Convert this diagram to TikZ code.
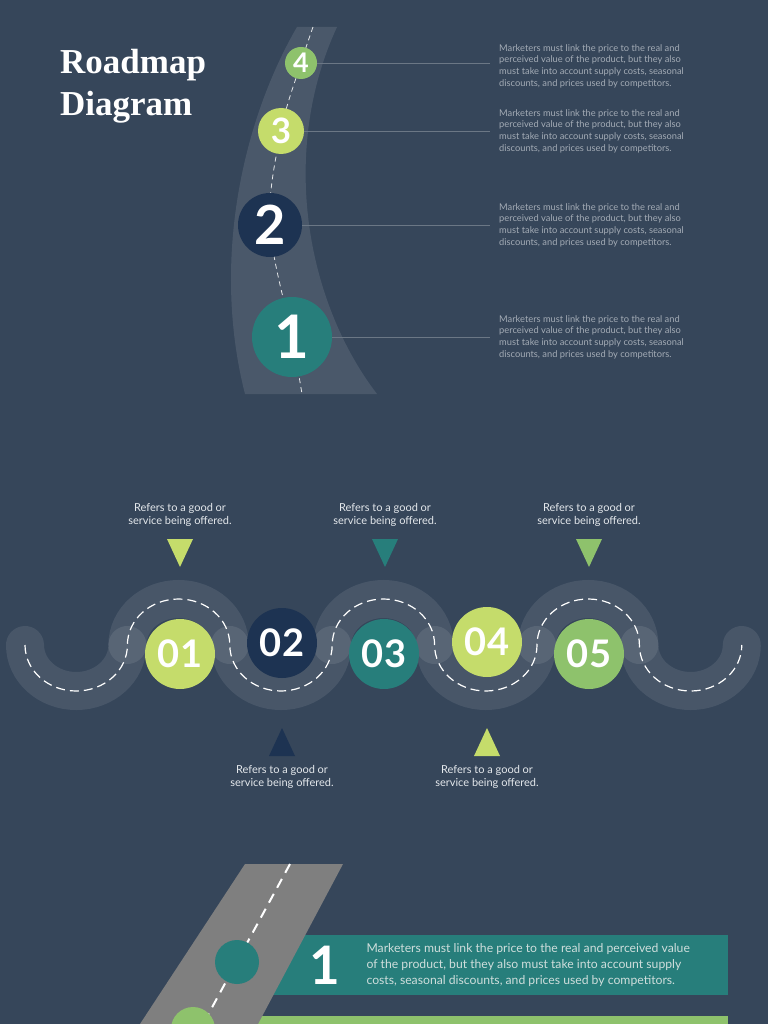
\documentclass[tikz,border=0pt]{standalone}
\usepackage{fontspec}
\setmainfont{Lato}
\newfontfamily\titlefont{Liberation Serif}
\usepackage{tikz}
\usetikzlibrary{calc, positioning}

\definecolor{bgslate}{HTML}{36465A}
\definecolor{limec}{HTML}{C5DC6B}
\definecolor{greenc}{HTML}{8EC26C}
\definecolor{tealc}{HTML}{277E7B}
\definecolor{navyc}{HTML}{1D3352}
\definecolor{roadgray}{HTML}{7F7F7F}
\definecolor{desctext}{HTML}{A3ABB5}
\definecolor{lbltext}{HTML}{E4E8EC}
\definecolor{bartext}{HTML}{CFDEDC}
\definecolor{leader}{HTML}{6B7785}

\begin{document}
\begin{tikzpicture}[
  x=1pt, y=-1pt,
  numcirc/.style={
    circle,
    inner sep=0pt,
    text=white
    },
  desc/.style={
    anchor=west,
    align=left,
    text=desctext,
    inner xsep=9pt,
    font=\fontsize{9.3}{11.7}\selectfont
    },
  lbl/.style={
    align=center,
    text=lbltext,
    font=\fontsize{11}{13}\selectfont
    },
  roadband/.style={
    white,
    opacity=0.09,
    line width=38pt,
    line cap=round
    },
  roaddash/.style={
    white,
    line width=1.2pt,
    dash pattern=on 9pt off 5pt
    }
]

\fill[bgslate] (0,0) rectangle (768,1024);
\useasboundingbox (0,0) rectangle (768,1024);

\node[anchor=west, align=left, inner sep=0pt, text=white,
  font=\titlefont\bfseries\fontsize{35}{42}\selectfont] (title) at (60,86)
  {Roadmap\\Diagram};

% Curved road
\fill[white, opacity=0.1] (297,27) .. controls (243,120) and (211,260) .. (245,394)
  -- (377,394) .. controls (305,300) and (280,150) .. (337,27) -- cycle;
\draw[white, line width=0.8pt, dash pattern=on 5pt off 4pt, opacity=0.85]
  plot[smooth, tension=0.6] coordinates {(313,27) (301,63) (281,131) (270,225) (292,337) (302,394)};

\node[numcirc, fill=tealc, minimum size=80pt, font=\bfseries\fontsize{60}{60}\selectfont] (t1) at (292,337) {1};
\node[numcirc, fill=navyc, minimum size=64pt, font=\bfseries\fontsize{54}{54}\selectfont] (t2) at (270,225) {2};
\node[numcirc, fill=limec, minimum size=46pt, font=\bfseries\fontsize{35}{35}\selectfont] (t3) at (281,131) {3};
\node[numcirc, fill=greenc, minimum size=32pt, font=\bfseries\fontsize{27}{27}\selectfont] (t4) at (301,63) {4};

\node[desc] (d1) at (490,337) {Marketers must link the price to the real and\\perceived value of the product, but they also\\must take into account supply costs, seasonal\\discounts, and prices used by competitors.};
\node[desc] (d2) at (490,225) {Marketers must link the price to the real and\\perceived value of the product, but they also\\must take into account supply costs, seasonal\\discounts, and prices used by competitors.};
\node[desc] (d3) at (490,131) {Marketers must link the price to the real and\\perceived value of the product, but they also\\must take into account supply costs, seasonal\\discounts, and prices used by competitors.};
\node[desc] (d4) at (490,66) {Marketers must link the price to the real and\\perceived value of the product, but they also\\must take into account supply costs, seasonal\\discounts, and prices used by competitors.};

\foreach \i in {1,...,4}
  \draw[leader, line width=0.7pt] (t\i) -- (t\i -| d\i.west);

% Wave road
\foreach \xs/\ea in {25/360, 127.4/0, 229.8/360, 332.2/0, 434.6/360, 537/0, 639.4/360}
  \draw[roadband] (\xs,645) arc[start angle=180, end angle=\ea, x radius=51.2pt, y radius=46pt];
\draw[roaddash] (25,645)
  arc[start angle=180, end angle=360, x radius=51.2pt, y radius=46pt]
  arc[start angle=180, end angle=0, x radius=51.2pt, y radius=46pt]
  arc[start angle=180, end angle=360, x radius=51.2pt, y radius=46pt]
  arc[start angle=180, end angle=0, x radius=51.2pt, y radius=46pt]
  arc[start angle=180, end angle=360, x radius=51.2pt, y radius=46pt]
  arc[start angle=180, end angle=0, x radius=51.2pt, y radius=46pt]
  arc[start angle=180, end angle=360, x radius=51.2pt, y radius=46pt];

\node[numcirc, fill=limec, minimum size=70pt, font=\bfseries\fontsize{38}{38}\selectfont] (s1) at (180,654) {01};
\node[numcirc, fill=navyc, minimum size=70pt, font=\bfseries\fontsize{38}{38}\selectfont] (s2) at (282,643) {02};
\node[numcirc, fill=tealc, minimum size=70pt, font=\bfseries\fontsize{38}{38}\selectfont] (s3) at (384,654) {03};
\node[numcirc, fill=limec, minimum size=70pt, font=\bfseries\fontsize{38}{38}\selectfont] (s4) at (487,642) {04};
\node[numcirc, fill=greenc, minimum size=70pt, font=\bfseries\fontsize{38}{38}\selectfont] (s5) at (589,654) {05};

\node[lbl] (l1) at (180,514.5) {Refers to a good or\\service being offered.};
\node[lbl] (l3) at (385,514.5) {Refers to a good or\\service being offered.};
\node[lbl] (l5) at (589,514.5) {Refers to a good or\\service being offered.};
\node[lbl] (l2) at (282,776.5) {Refers to a good or\\service being offered.};
\node[lbl] (l4) at (487,776.5) {Refers to a good or\\service being offered.};

\fill[limec] (167,539) -- (193,539) -- (180,567) -- cycle;
\fill[tealc] (372,539) -- (398,539) -- (385,567) -- cycle;
\fill[greenc] (576,539) -- (602,539) -- (589,567) -- cycle;
\fill[navyc] (269,756) -- (295,756) -- (282,728) -- cycle;
\fill[limec] (474,756) -- (500,756) -- (487,728) -- cycle;

% Straight road
\node[fill=tealc, minimum width=473pt, minimum height=60pt, anchor=west, inner sep=0pt] (bar1) at (255,965) {};
\node[fill=greenc, minimum width=473pt, minimum height=40pt, anchor=north west, inner sep=0pt] (bar2) at (255,1016) {};
\node[text=white, font=\bfseries\fontsize{53}{53}\selectfont] (n1) at (325,965) {1};
\node[anchor=west, align=left, text=bartext, font=\fontsize{12.2}{16}\selectfont] (bt1) at (363,965)
  {Marketers must link the price to the real and perceived value\\of the product, but they also must take into account supply\\costs, seasonal discounts, and prices used by competitors.};

\fill[roadgray] (245,864) -- (343,864) -- (258,1024) -- (140,1024) -- cycle;
\draw[white, line width=2pt, dash pattern=on 10pt off 7pt] (290,864) -- (203,1024);
\node[numcirc, fill=tealc, minimum size=44pt] (r1) at (237,962) {};
\node[numcirc, fill=greenc, minimum size=44pt] (r2) at (193,1029) {};

\end{tikzpicture}
\end{document}
